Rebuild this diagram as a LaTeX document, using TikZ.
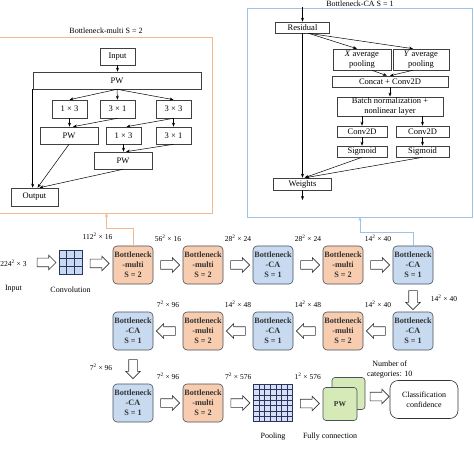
\documentclass[tikz,border=0pt]{standalone}
\usepackage{fontspec}
\setmainfont{Liberation Serif}
\usetikzlibrary{positioning}
\usetikzlibrary{calc}
\usetikzlibrary{arrows.meta}
\usetikzlibrary{shapes.arrows}
\definecolor{caBlue}{RGB}{200,218,240}
\definecolor{muOrange}{RGB}{248,204,174}
\definecolor{fcGreen}{RGB}{214,234,184}
\definecolor{frameOrange}{RGB}{244,184,142}
\definecolor{frameBlue}{RGB}{160,194,228}
\definecolor{edgeGray}{RGB}{72,80,92}
\definecolor{gridNavy}{RGB}{40,52,100}
\definecolor{gridFill}{RGB}{214,223,243}
\tikzset{NETstyle/.style={
    x=1pt,y=-1pt,% one unit per pixel of the sketch, y runs downwards
    node distance=70pt,% spacing of the bottleneck blocks
    on grid,% place blocks centre to centre
    >={Stealth[length=4pt,width=3pt]},
    line width=0.5pt
  },
  blk/.style={draw=black!75, rectangle, inner sep=1pt, align=center,
    line width=0.6pt, font=\fontsize{8.5}{9.5}\selectfont},
  ca/.style={% bottleneck with coordinate attention
    draw=edgeGray, fill=caBlue, rounded corners=4pt, line width=0.6pt,
    minimum width=40pt, minimum height=38pt, inner sep=0pt, align=center,
    text=black!80, font=\bfseries\fontsize{8.2}{10}\selectfont},
  mu/.style={ca, fill=muOrange},% bottleneck multi
  fat/.style={single arrow, draw=black!80, fill=white, line width=0.6pt,
    minimum height=19pt, single arrow head extend=3pt,
    inner xsep=0pt, inner ysep=4pt},
  fatdown/.style={fat, shape border rotate=270, inner xsep=4pt, inner ysep=0pt},
  dim/.style={font=\fontsize{7.5}{9}\selectfont},
  txt/.style={font=\fontsize{8}{9.5}\selectfont, align=center}
}
\begin{document}
\begin{tikzpicture}[NETstyle]
  \useasboundingbox (0,0) rectangle (474,457);

  % Bottleneck-multi detail
  \draw[frameOrange, line width=0.7pt] (-2,37.5) rectangle (212,213);
  \node[txt] (mTitle) at (106,31) {Bottleneck-multi S = 2};
  \node[blk, minimum width=35pt, minimum height=17pt] (mIn) at (117.5,56.5) {Input};
  \node[blk, minimum width=168pt, minimum height=17pt] (mPW) at (117,80.5) {PW};
  \node[blk, minimum width=35pt, minimum height=18pt] (m13) at (69.5,109) {1 × 3};
  \node[blk, minimum width=35pt, minimum height=18pt] (m31) at (117.5,109) {3 × 1};
  \node[blk, minimum width=35pt, minimum height=18pt] (m33) at (173.5,109) {3 × 3};
  \node[blk, minimum width=58pt, minimum height=17pt] (mPWa) at (69,135.5) {PW};
  \node[blk, minimum width=35pt, minimum height=17pt] (m13b) at (123.5,135.5) {1 × 3};
  \node[blk, minimum width=35pt, minimum height=17pt] (m31b) at (173.5,135.5) {3 × 1};
  \node[blk, minimum width=58pt, minimum height=17pt] (mPWb) at (123,160.5) {PW};
  \node[blk, minimum width=47pt, minimum height=18pt] (mOut) at (34.5,197) {Output};
  \path[->] (mIn.south) edge (mIn.south |- mPW.north)
            (mPW.south) edge (m13.north)
            (mPW.south) edge (m31.north)
            (mPW.south) edge (m33.north)
            (m13.south) edge (m13.south |- mPWa.north)
            (m31.south) edge ([xshift=4pt]mPWa.north)
            (m33.south) edge ([xshift=3pt]m13b.north)
            (m33.south) edge (m33.south |- m31b.north)
            (m13b.south) edge (m13b.south |- mPWb.north)
            (m31b.south) edge ([xshift=3pt]mPWb.north)
            (mPWa.south) edge ([xshift=3pt]mOut.north)
            (mPWb.south) edge ([xshift=5pt]mOut.north)
            (mPW.south west) edge (mPW.south west |- mOut.north)
  ;

  % Bottleneck-CA detail
  \draw[frameBlue, line width=0.7pt] (247,8) rectangle (472.5,217);
  \node[txt] (cTitle) at (360,3.5) {Bottleneck-CA S = 1};
  \coordinate (cTop) at (302.5,7);
  \coordinate (cEnd) at (302.5,200);
  \node[blk, minimum width=54pt, minimum height=11pt] (cRes) at (302.5,27.5) {Residual};
  \node[blk, minimum width=58pt, minimum height=21pt] (cX) at (362,59.5) {\textit{X} average\\pooling};
  \node[blk, minimum width=56pt, minimum height=21pt] (cY) at (421,59.5) {\textit{Y} average\\pooling};
  \node[blk, minimum width=116pt, minimum height=11pt] (cCat) at (390,81.5) {Concat + Conv2D};
  \node[blk, minimum width=106pt, minimum height=19pt] (cBN) at (390,106.5) {Batch normalization +\\nonlinear layer};
  \node[blk, minimum width=50pt, minimum height=11pt] (cCv1) at (362,131.5) {Conv2D};
  \node[blk, minimum width=53pt, minimum height=11pt] (cCv2) at (422.5,131.5) {Conv2D};
  \node[blk, minimum width=50pt, minimum height=11pt] (cSg1) at (362,151.5) {Sigmoid};
  \node[blk, minimum width=53pt, minimum height=11pt] (cSg2) at (422.5,151.5) {Sigmoid};
  \node[blk, minimum width=58pt, minimum height=12pt] (cW) at (302.5,184) {Weights};
  \path[->] (cTop) edge (cRes.north)
            (cRes.south) edge (cW.north)
            ([xshift=6pt]cRes.south) edge ([xshift=-5pt]cX.north)
            ([xshift=6pt]cRes.south) edge ([xshift=-8pt]cY.north)
            ([xshift=10pt]cX.south) edge ([xshift=-3pt]cCat.north)
            ([xshift=-8pt]cY.south) edge (cCat.north)
            (cCat.south) edge (cBN.north)
            (cCv1 |- cBN.south) edge (cCv1.north)
            (cCv2 |- cBN.south) edge (cCv2.north)
            (cCv1.south) edge (cSg1.north)
            (cCv2.south) edge (cSg2.north)
            (cSg1.south) edge ([xshift=2pt]cW.north)
            (cSg2.south) edge ([xshift=3pt]cW.north)
            (cW.south) edge (cEnd)
  ;

  % main network
  \node[dim] (inLbl) at (13.5,263) {224\textsuperscript{2} × 3};
  \node[txt, below=26pt of inLbl] (inTxt) {Input};
  \node[draw=gridNavy, fill=caBlue, minimum width=23pt, minimum height=24pt,
        inner sep=0pt, line width=0.6pt] (conv) at (70.5,262) {};
  \foreach \i in {1,2} {
    \draw[gridNavy, line width=0.6pt] ($(conv.north west)!\i/3!(conv.north east)$) -- ($(conv.south west)!\i/3!(conv.south east)$);
    \draw[gridNavy, line width=0.6pt] ($(conv.north west)!\i/3!(conv.south west)$) -- ($(conv.north east)!\i/3!(conv.south east)$);
  }
  \node[txt, below=28pt of conv] (convTxt) {Convolution};

  \node[mu] (b1) at (133,265) {Bottleneck\\-multi\\S = 2};
  \node[mu, right=of b1] (b2) {Bottleneck\\-multi\\S = 2};
  \node[ca, right=of b2] (b3) {Bottleneck\\-CA\\S = 1};
  \node[mu, right=of b3] (b4) {Bottleneck\\-multi\\S = 2};
  \node[ca, right=of b4] (b5) {Bottleneck\\-CA\\S = 1};
  \node[ca, below=66pt of b5] (b6) {Bottleneck\\-CA\\S = 1};
  \node[mu, left=of b6] (b7) {Bottleneck\\-multi\\S = 2};
  \node[ca, left=of b7] (b8) {Bottleneck\\-CA\\S = 1};
  \node[mu, left=of b8] (b9) {Bottleneck\\-multi\\S = 2};
  \node[ca, left=of b9] (b10) {Bottleneck\\-CA\\S = 1};
  \node[ca, below=72pt of b10] (b11) {Bottleneck\\-CA\\S = 1};
  \node[mu, right=of b11] (b12) {Bottleneck\\-multi\\S = 2};

  \node[draw=gridNavy, fill=gridFill, minimum width=39pt, minimum height=37pt,
        inner sep=0pt, line width=0.6pt, right=of b12] (pool) {};
  \foreach \i in {1,...,6} {
    \draw[gridNavy, line width=0.6pt] ($(pool.north west)!\i/7!(pool.north east)$) -- ($(pool.south west)!\i/7!(pool.south east)$);
    \draw[gridNavy, line width=0.6pt] ($(pool.north west)!\i/7!(pool.south west)$) -- ($(pool.north east)!\i/7!(pool.south east)$);
  }
  \node[txt, below=34pt of pool] (poolTxt) {Pooling};

  \node[draw=edgeGray, fill=fcGreen, rounded corners=3pt, line width=0.6pt,
        minimum width=33pt, minimum height=32pt] (fcBack) at ($(pool)+(75.5,-9.5)$) {};
  \node[draw=edgeGray, fill=fcGreen, rounded corners=3pt, line width=0.6pt,
        minimum width=34pt, minimum height=33pt, text=black!80,
        font=\bfseries\fontsize{7.5}{9}\selectfont] (fc) at ($(fcBack)+(-8.5,10.5)$) {PW};
  \node[txt] (fcTxt) at ([xshift=-10pt]fc |- poolTxt) {Fully connection};
  \node[draw=black!80, rounded corners=8pt, line width=0.6pt, minimum width=68pt,
        minimum height=38pt, txt] (cls) at ($(fc)+(84,-4.5)$) {Classification\\confidence};
  \node[txt] (catTxt) at ($(cls.west)+(0,-30)$) {Number of\\categories: 10};

  % hollow arrows between the stages
  \node[fat] (a0) at ($(inLbl.east)!0.5!(conv.west)$) {};
  \node[fat] (a1) at ($(conv.east)!0.5!(b1.west)$) {};
  \node[fat] (a2) at ($(b1.east)!0.5!(b2.west)$) {};
  \node[fat] (a3) at ($(b2.east)!0.5!(b3.west)$) {};
  \node[fat] (a4) at ($(b3.east)!0.5!(b4.west)$) {};
  \node[fat] (a5) at ($(b4.east)!0.5!(b5.west)$) {};
  \node[fatdown] (a6) at ($(b5.south)!0.5!(b6.north)$) {};
  \node[fat, shape border rotate=180] (a7) at ($(b6.west)!0.5!(b7.east)$) {};
  \node[fat, shape border rotate=180] (a8) at ($(b7.west)!0.5!(b8.east)$) {};
  \node[fat, shape border rotate=180] (a9) at ($(b8.west)!0.5!(b9.east)$) {};
  \node[fat, shape border rotate=180] (a10) at ($(b9.west)!0.5!(b10.east)$) {};
  \node[fatdown] (a11) at ($(b10.south)!0.5!(b11.north)$) {};
  \node[fat] (a12) at ($(b11.east)!0.5!(b12.west)$) {};
  \node[fat] (a13) at ($(b12.east)!0.5!(pool.west)$) {};
  \node[fat] (a14) at ($(pool.east)!0.5!(fc.west)$) {};
  \node[fat] (a15) at ($(fcBack.east)!0.5!(cls.west)$) {};

  % feature map sizes
  \node[dim, above=27pt of a1] {112\textsuperscript{2} × 16};
  \node[dim, above=27pt of a2] {56\textsuperscript{2} × 16};
  \node[dim, above=27pt of a3] {28\textsuperscript{2} × 24};
  \node[dim, above=27pt of a4] {28\textsuperscript{2} × 24};
  \node[dim, above=27pt of a5] {14\textsuperscript{2} × 40};
  \node[dim, right=31pt of a6] {14\textsuperscript{2} × 40};
  \node[dim, above=27pt of a7] {14\textsuperscript{2} × 40};
  \node[dim, above=27pt of a8] {14\textsuperscript{2} × 48};
  \node[dim, above=27pt of a9] {14\textsuperscript{2} × 48};
  \node[dim, above=27pt of a10] {7\textsuperscript{2} × 96};
  \node[dim, left=32pt of a11] {7\textsuperscript{2} × 96};
  \node[dim, above=27pt of a12] {7\textsuperscript{2} × 96};
  \node[dim, above=27pt of a13] {7\textsuperscript{2} × 576};
  \node[dim, above=27pt of a14] {1\textsuperscript{2} × 576};

  % links to the detail frames
  \coordinate (mBot) at (106.5,213);
  \coordinate (cBot) at (360,217);
  \draw[->, frameOrange, line width=0.7pt] (b1.north) |- ($(mBot)+(0,15)$) -- (mBot);
  \draw[->, frameBlue, line width=0.7pt] (b5.north) |- ($(cBot)+(0,15)$) -- (cBot);
\end{tikzpicture}
\end{document}
